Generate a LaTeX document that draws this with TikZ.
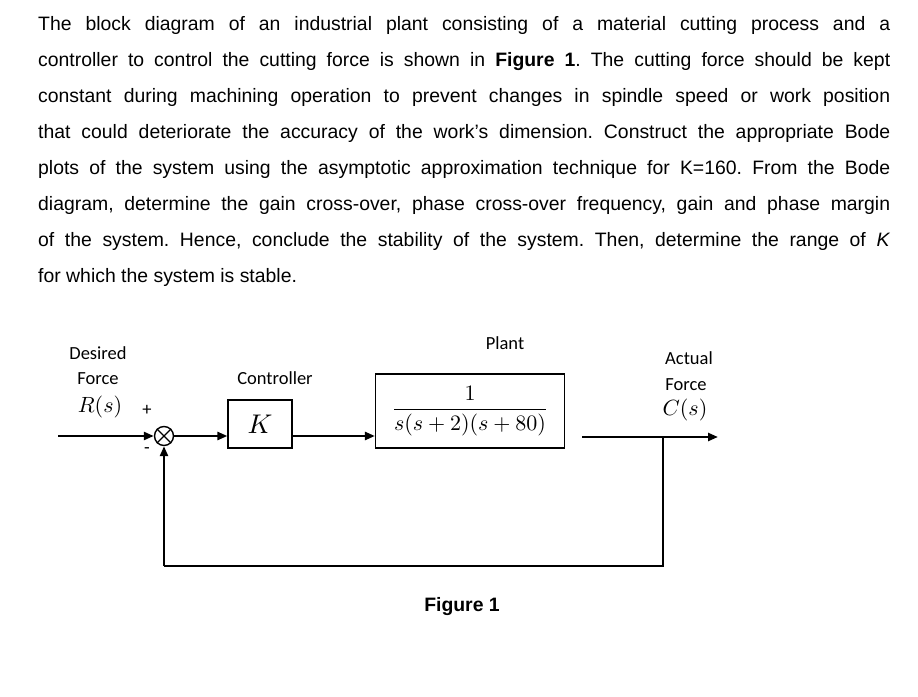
\documentclass[tikz,border=0pt]{standalone}
\usepackage{amsmath}
\usepackage{graphicx}
\usepackage{fontspec}
\setmainfont{Liberation Sans}
\newfontfamily\carlitofont{Carlito}
\usetikzlibrary{arrows.meta}
\frenchspacing
\begin{document}
\begin{tikzpicture}[x=1pt,y=-1pt,
  lbl/.style={font=\carlitofont\fontsize{18.5}{20}\selectfont, inner sep=0},
  blk/.style={draw, line width=1.2pt, inner sep=0},
  arr/.style={line width=2.4pt, -{Triangle[length=10pt,width=8pt]}},
  ln/.style={line width=2.4pt}]
\useasboundingbox (0,0) rectangle (918,696);
\node[anchor=north west, inner sep=0, text width=852pt, align=justify,
  font=\fontsize{19.4}{36}\selectfont] (para) at (38,16) {%
The block diagram of an industrial plant consisting of a material cutting process and a\linebreak
controller to control the cutting force is shown in \textbf{Figure 1}. The cutting force should be kept\linebreak
constant during machining operation to prevent changes in spindle speed or work position\linebreak
that could deteriorate the accuracy of the work’s dimension. Construct the appropriate Bode\linebreak
plots of the system using the asymptotic approximation technique for K=160. From the Bode\linebreak
diagram, determine the gain cross-over, phase cross-over frequency, gain and phase margin\linebreak
of the system. Hence, conclude the stability of the system. Then, determine the range of \textit{K}\linebreak
for which the system is stable.};
% blocks
\node[blk, minimum width=64pt, minimum height=48pt] (K) at (260,424) {\scalebox{2.7}{$K$}};
\node[blk, minimum width=189pt, minimum height=74pt] (P) at (470,411) {\scalebox{2.2}{$\dfrac{1}{s(s+2)(s+80)}$}};
\node[draw, circle, line width=1.4pt, minimum size=19pt, inner sep=0] (S) at (164,436) {};
\draw[line width=1.4pt] (S.north west) -- (S.south east) (S.north east) -- (S.south west);
\coordinate (in) at (58,436);
\coordinate (o1) at (582,437);
\coordinate (o2) at (718,437);
\coordinate (br) at (663,437);
\coordinate (c1) at (663,566);
\coordinate (c2) at (164,566);
\draw[arr] (in) -- (S.west);
\draw[arr] (S.east) -- (K.west |- S.east);
\draw[arr] (K.east |- S.east) -- (P.west |- S.east);
\draw[arr] (o1) -- (o2);
\draw[ln] (br) -- (c1) -- (c2);
\draw[arr] (c2) -- (S.south);
% labels
\node[lbl] (d1) at (98,353) {Desired};
\node[lbl] (d2) at (98,379) {Force};
\node[inner sep=0] (d3) at (100,407) {\scalebox{2.2}{$R(s)$}};
\node[lbl] (plus) at (147,410) {+};
\node[lbl] (minus) at (147,451) {-};
\node[lbl] (ctl) at (275,378) {Controller};
\node[lbl] (pl) at (505,343) {Plant};
\node[lbl] (a1) at (689,358) {Actual};
\node[lbl] (a2) at (686,385) {Force};
\node[inner sep=0] (a3) at (685,410) {\scalebox{2.2}{$C(s)$}};
\node[inner sep=0, font=\bfseries\fontsize{19.4}{20}\selectfont] (fig) at (462,607) {Figure 1};
\end{tikzpicture}
\end{document}
